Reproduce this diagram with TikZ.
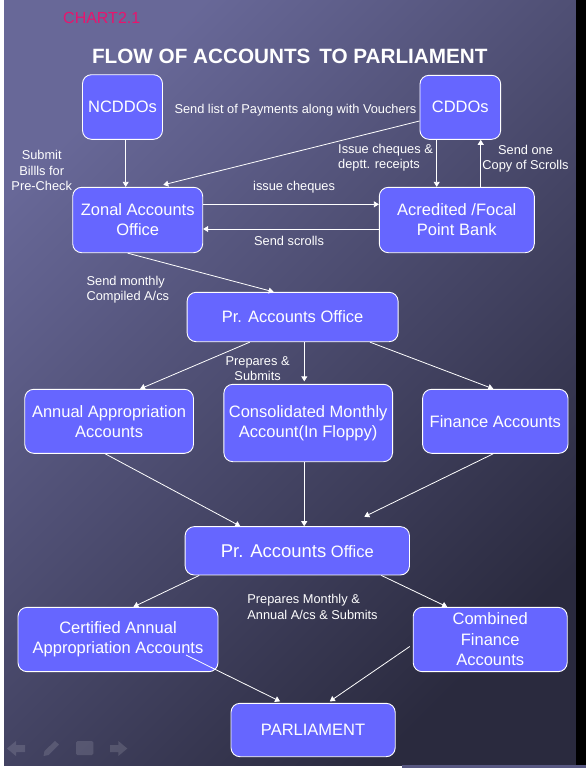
\documentclass[tikz,border=0pt]{standalone}
\usepackage{fontspec}
\setmainfont{Liberation Sans}
\usepackage{tikz}
\usetikzlibrary{arrows.meta, calc}

\definecolor{boxfill}{RGB}{102,102,255}
\definecolor{bgtop}{RGB}{104,104,152}
\definecolor{bgbot}{RGB}{42,42,62}
\definecolor{chartpink}{RGB}{232,20,110}
\definecolor{stripbg}{RGB}{88,88,130}

\tikzset{
    box/.style={draw=white, line width=0.9pt, fill=boxfill, rounded corners=9pt,
        text=white, align=center, inner sep=0pt,
        font=\fontsize{16.5}{20}\selectfont},
    lbl/.style={text=white, inner sep=0pt, font=\fontsize{12.8}{15.5}\selectfont},
    flow/.style={draw=white, line width=0.8pt, -{Triangle[width=6pt,length=5pt]}},
    navicon/.style={fill=white, fill opacity=0.13, draw=none}
}

\begin{document}
\begin{tikzpicture}[x=1pt, y=-1pt]
    \useasboundingbox (0,0) rectangle (586,768);

    % slide background
    \fill[white] (0,0) rectangle (586,768);
    \shade[top color=bgtop, bottom color=bgbot, shading angle=45] (4,0) rectangle (576,765);
    \fill[black] (576,0) rectangle (586,765);
    \fill[stripbg] (402,765) rectangle (586,768);

    % heading
    \node[anchor=west, text=chartpink, inner sep=0pt, font=\fontsize{16}{18}\selectfont] (chart) at (63,17.5) {CHART2.1};
    \node[text=white, inner sep=0pt, font=\fontsize{20.7}{24}\selectfont\bfseries] (title) at (289.8,56.5) {FLOW OF ACCOUNTS\hspace{3pt} TO PARLIAMENT};

    % boxes
    \node[box, minimum width=80pt, minimum height=64.6pt] (ncddo) at (122.5,107) {NCDDOs};
    \node[box, minimum width=80.7pt, minimum height=64pt] (cddo) at (460.3,107.3) {CDDOs};
    \node[box, minimum width=130pt, minimum height=65.4pt] (zao) at (137.7,220) {Zonal Accounts\\Office};
    \node[box, minimum width=155pt, minimum height=65.4pt] (bank) at (456.8,220) {Acredited /Focal\\Point Bank};
    \node[box, minimum width=211pt, minimum height=49.4pt] (pao) at (292.6,317) {Pr. Accounts Office};
    \node[box, minimum width=168.7pt, minimum height=64pt] (aaa) at (109.1,421.3) {Annual Appropriation\\Accounts};
    \node[box, minimum width=168.7pt, minimum height=77.4pt] (cma) at (308.2,423) {Consolidated Monthly\\Account(In Floppy)};
    \node[box, minimum width=145.4pt, minimum height=64pt] (fa) at (495.3,421.3) {Finance Accounts};
    \node[box, minimum width=224.3pt, minimum height=48.3pt] (paotwo) at (297.3,550.8) {{\fontsize{18.5}{20}\selectfont Pr. Accounts} Office};
    \node[box, minimum width=200pt, minimum height=64.3pt] (caaa) at (118,639.5) {Certified Annual\\Appropriation Accounts};
    \node[box, minimum width=154pt, minimum height=64.3pt, font=\fontsize{16.5}{20.5}\selectfont] (cfa) at (490.2,639.5) {Combined\\Finance\\Accounts};
    \node[box, minimum width=164.2pt, minimum height=53.4pt] (parl) at (313.1,730) {PARLIAMENT};

    % labels
    \node[lbl, align=center] (precheck) at (41.7,170.6) {Submit\\Billls for\\Pre-Check};
    \node[lbl, anchor=west] (sendlist) at (174.3,110) {Send list of Payments along with Vouchers};
    \node[lbl, anchor=west, align=left] (issuedept) at (338,157.9) {Issue cheques \&\\deptt. receipts};
    \node[lbl, align=center] (sendone) at (525.5,158.7) {Send one\\Copy of Scrolls};
    \node[lbl, anchor=west] (issue) at (253,186.7) {issue cheques};
    \node[lbl, anchor=west] (scrolls) at (254,241) {Send scrolls};
    \node[lbl, anchor=west, align=left] (monthly) at (86.4,289.5) {Send monthly\\Compiled A/cs};
    \node[lbl, align=center] (prepares) at (257.6,368.7) {Prepares \&\\Submits};
    \node[lbl, anchor=west, align=left] (annual) at (247.2,606.7) {Prepares Monthly \&\\Annual A/cs \& Submits};

    % top flows
    \draw[flow] ([xshift=3.2pt]ncddo.south) -- ([xshift=3.2pt]ncddo.south |- zao.north);
    \draw[flow] ([yshift=-13.7pt]cddo.west) -- ([xshift=25.6pt, yshift=2pt]zao.north);
    \draw[flow] ([xshift=-23.6pt]cddo.south) -- ([xshift=-23.6pt]cddo.south |- bank.north);
    \draw[flow] ([xshift=20.4pt]cddo.south |- bank.north) -- ([xshift=20.4pt]cddo.south);
    \draw[flow] ([yshift=15.7pt]zao.east) -- ([yshift=15.7pt]zao.east -| bank.west);
    \draw[flow] ([yshift=-9pt]bank.west) -- ([yshift=-9pt]bank.west -| zao.east);

    % middle flows
    \draw[flow] ([xshift=-10pt]zao.south) -- ([xshift=-19pt]pao.north);
    \draw[flow] ([xshift=-42.8pt]pao.south) -- ([xshift=31pt]aaa.north);
    \draw[flow] ([xshift=11.7pt]pao.south) -- ([xshift=11.7pt, yshift=2.5pt]pao.south |- cma.north);
    \draw[flow] ([xshift=77.4pt]pao.south) -- ([xshift=-2pt]fa.north);
    \draw[flow] ([xshift=-4pt]aaa.south) -- ([xshift=-57pt]paotwo.north);
    \draw[flow] ([xshift=-4pt]cma.south) -- ([xshift=-4pt]cma.south |- paotwo.north);
    \draw[flow] ([xshift=-2pt]fa.south) -- ([xshift=67pt, yshift=9.5pt]paotwo.north);

    % bottom flows
    \draw[flow] ([xshift=-98pt]paotwo.south) -- ([xshift=15.4pt]caaa.north);
    \draw[flow] ([xshift=84pt]paotwo.south) -- ([xshift=-43pt]cfa.north);
    \draw[flow] ($(caaa.center)+(68,15.5)$) -- ([xshift=-33pt, yshift=1.5pt]parl.north);
    \draw[flow] ($(cfa.west)+(-3,7)$) -- ([xshift=16.7pt, yshift=1.5pt]parl.north);

    % slide show buttons
    \fill[navicon] (7,748.5) -- (16,741) -- (16,745) -- (25,745) -- (25,752) -- (16,752) -- (16,756) -- cycle;
    \fill[navicon] (43.5,756) -- (44.5,751) -- (55,741) -- (59,744.5) -- (48.5,755) -- cycle;
    \fill[navicon, rounded corners=1.5pt] (76,741) rectangle (93.3,755);
    \fill[navicon] (127.3,748.5) -- (118.3,741) -- (118.3,745) -- (110,745) -- (110,752) -- (118.3,752) -- (118.3,756) -- cycle;
\end{tikzpicture}
\end{document}
